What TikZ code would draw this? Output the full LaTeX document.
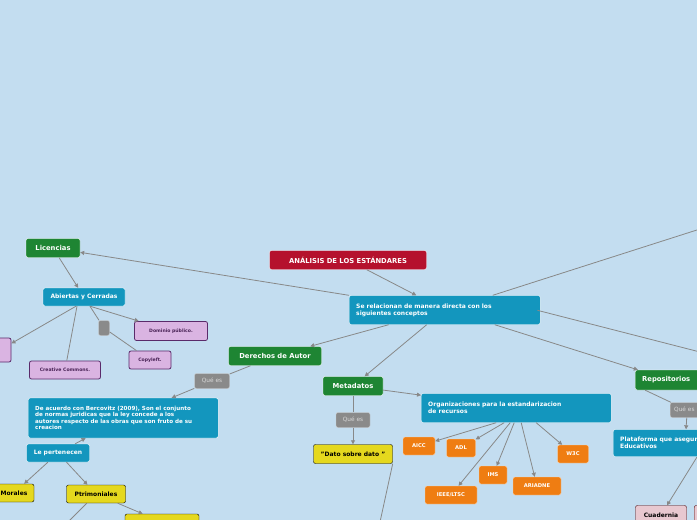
\documentclass[tikz,border=0pt]{standalone}
\usepackage{fontspec}
\setmainfont{DejaVu Sans}
\usetikzlibrary{arrows.meta}
\definecolor{bg}{HTML}{C3DDF0}
\definecolor{gr}{HTML}{1E8533}
\definecolor{bl}{HTML}{1396BE}
\definecolor{rd}{HTML}{B5112D}
\definecolor{orr}{HTML}{EF7D12}
\definecolor{ye}{HTML}{E5D81E}
\definecolor{pk}{HTML}{DAB4E2}
\definecolor{pkb}{HTML}{5A2A6A}
\definecolor{gy}{HTML}{8A8A8A}
\definecolor{ln}{HTML}{888888}
\definecolor{cu}{HTML}{E8C8D0}
\tikzset{
 x=1pt,y=-1pt,
 base/.style={rounded corners=2pt,font=\bfseries\fontsize{6}{6.8}\selectfont,inner sep=0pt,align=left},
 grn/.style={base,fill=gr,draw=white,text=white,font=\bfseries\fontsize{6.8}{7}\selectfont},
 blu/.style={base,fill=bl,draw=white,text=white},
 red/.style={base,fill=rd,draw=white,text=white,font=\bfseries\fontsize{6.8}{7}\selectfont},
 ora/.style={base,fill=orr,draw=white!70!orr,text=white,font=\bfseries\fontsize{5.2}{6}\selectfont},
 yel/.style={base,fill=ye,draw=black,text=black},
 pnk/.style={base,fill=pk,draw=pkb,thick,text=pkb!80!black,font=\bfseries\fontsize{4.6}{5}\selectfont},
 gry/.style={base,fill=gy,draw=white!60!gy,text=white!85!black,font=\fontsize{5.8}{6}\selectfont},
 cud/.style={base,fill=cu,draw=black!70!red,text=black},
 tw/.style={inner xsep=7pt,text width=#1,anchor=west},
 ar/.style={draw=ln,thick,-{Triangle[length=4pt,width=4pt]}},
 li/.style={draw=ln,thick},
}
\begin{document}
\begin{tikzpicture}
\fill[bg] (0,0) rectangle (697,520);
\useasboundingbox (0,0) rectangle (697,520);
\node[red,minimum width=157,minimum height=19] (t) at (348,260) {ANÁLISIS DE LOS ESTÁNDARES};
\node[blu,tw=177,minimum height=29] (s) at (349,310) {Se relacionan de manera directa con los\\siguientes conceptos};
\node[grn,minimum width=54,minimum height=19] (lic) at (53,248) {Licencias};
\node[blu,minimum width=82,minimum height=18] (ab) at (84,297) {Abiertas y Cerradas};
\node[pnk,minimum width=22,minimum height=24] (lp) at (0,350) {};
\node[pnk,minimum width=73,minimum height=19] (dom) at (171,331) {Dominio público.};
\node[gry,minimum width=11,minimum height=15] (g1) at (104,328) {};
\node[pnk,minimum width=42,minimum height=18] (cop) at (150,360) {Copyleft.};
\node[pnk,minimum width=71,minimum height=18] (cc) at (65,370) {Creative Commons.};
\node[grn,minimum width=93,minimum height=19] (da) at (275,356) {Derechos de Autor};
\node[gry,minimum width=35,minimum height=15] (q1) at (212,381) {Qué es};
\node[blu,tw=176,minimum height=40,font=\bfseries\fontsize{5.6}{6.2}\selectfont] (dea) at (28,418) {De acuerdo con Bercovitz (2009), Son el conjunto\\de normas juridicas que la ley concede a los\\autores respecto de las obras que son fruto de su\\creacion};
\node[blu,minimum width=63,minimum height=18] (lep) at (58,453) {Le pertenecen};
\node[yel,minimum width=40,minimum height=18] (mor) at (14,493) {Morales};
\node[yel,minimum width=59,minimum height=18] (ptr) at (96,494) {Ptrimoniales};
\node[yel,minimum width=74,minimum height=16] (yb) at (162,522) {};
\coordinate (pd) at (68,522);
\node[grn,minimum width=60,minimum height=19] (met) at (353,386) {Metadatos};
\node[gry,minimum width=34,minimum height=15] (q2) at (353,420) {Qué es};
\node[yel,minimum width=79,minimum height=19] (dato) at (353,454) {"Dato sobre dato "};
\coordinate (dd) at (380,522);
\node[blu,tw=176,minimum height=29] (org) at (421,408) {Organizaciones para la estandarizacion\\de recursos};
\node[ora,minimum width=32,minimum height=18] (aicc) at (419,446) {AICC};
\node[ora,minimum width=29,minimum height=18] (adl) at (461,448) {ADL};
\node[ora,minimum width=28,minimum height=18] (ims) at (493,475) {IMS};
\node[ora,minimum width=52,minimum height=18] (ieee) at (451,495) {IEEE/LTSC};
\node[ora,minimum width=48,minimum height=18] (ari) at (537,486) {ARIADNE};
\node[ora,minimum width=31,minimum height=18] (w3c) at (573,454) {W3C};
\node[grn,tw=56,minimum height=20] (rep) at (635,380) {Repositorios};
\node[gry,tw=26,inner xsep=4pt,minimum height=15] (q3) at (670,410) {Qué es};
\node[blu,tw=130,minimum height=27] (pla) at (613,443) {Plataforma que asegura los Recursos\\Educativos};
\node[cud,minimum width=51,minimum height=19] (cua) at (661,515) {Cuadernia};
\node[cud,minimum width=20,minimum height=19,anchor=west] (cu2) at (694,515) {};
\coordinate (tr) at (700,229);
\coordinate (rr) at (700,352);
\coordinate (pls) at (697,457);
% edges
\draw[ar] (t) -- (s);
\draw[ar] (s.north west) -- (lic);
\draw[li] (s.north) ++(48,0) -- (tr);
\draw[li] (s.north east) ++(-3,15) -- (rr);
\draw[ar] (s.south) ++(-56,0) -- (da);
\draw[ar] (s.south) ++(-18,0) -- (met);
\draw[ar] (s.south) ++(50,0) -- (rep);
\draw[ar] (lic) -- (ab);
\draw[ar] (ab.south) ++(-8,0) -- (lp);
\draw[li] (ab.south) ++(-7,0) -- (cc);
\draw[li] (ab) -- (g1);
\draw[li] (g1) -- (cop);
\draw[ar] (ab.south) ++(6,0) -- (dom);
\draw[li] (da) -- (q1);
\draw[ar] (q1) -- (dea);
\draw[ar] (lep) -- (dea);
\draw[ar] (lep) -- (mor);
\draw[ar] (lep) -- (ptr);
\draw[ar] (ptr) -- (yb);
\draw[li] (ptr) -- (pd);
\draw[li] (met) -- (q2);
\draw[ar] (q2) -- (dato);
\draw[li] (dato.south east) -- (dd);
\draw[ar] (met) -- (org);
\draw[ar] (org.south) ++(-20,0) -- (aicc);
\draw[ar] (org.south) ++(-12,0) -- (adl);
\draw[ar] (org.south) ++(-6,0) -- (ieee);
\draw[ar] (org.south) ++(-2,0) -- (ims);
\draw[ar] (org.south) ++(5,0) -- (ari);
\draw[ar] (org.south) ++(20,0) -- (w3c);
\draw[li] (rep.south) ++(-25,0) -- (q3);
\draw[ar] (q3) -- (pla);
\draw[ar] (pls) -- (cua);
\end{tikzpicture}
\end{document}
